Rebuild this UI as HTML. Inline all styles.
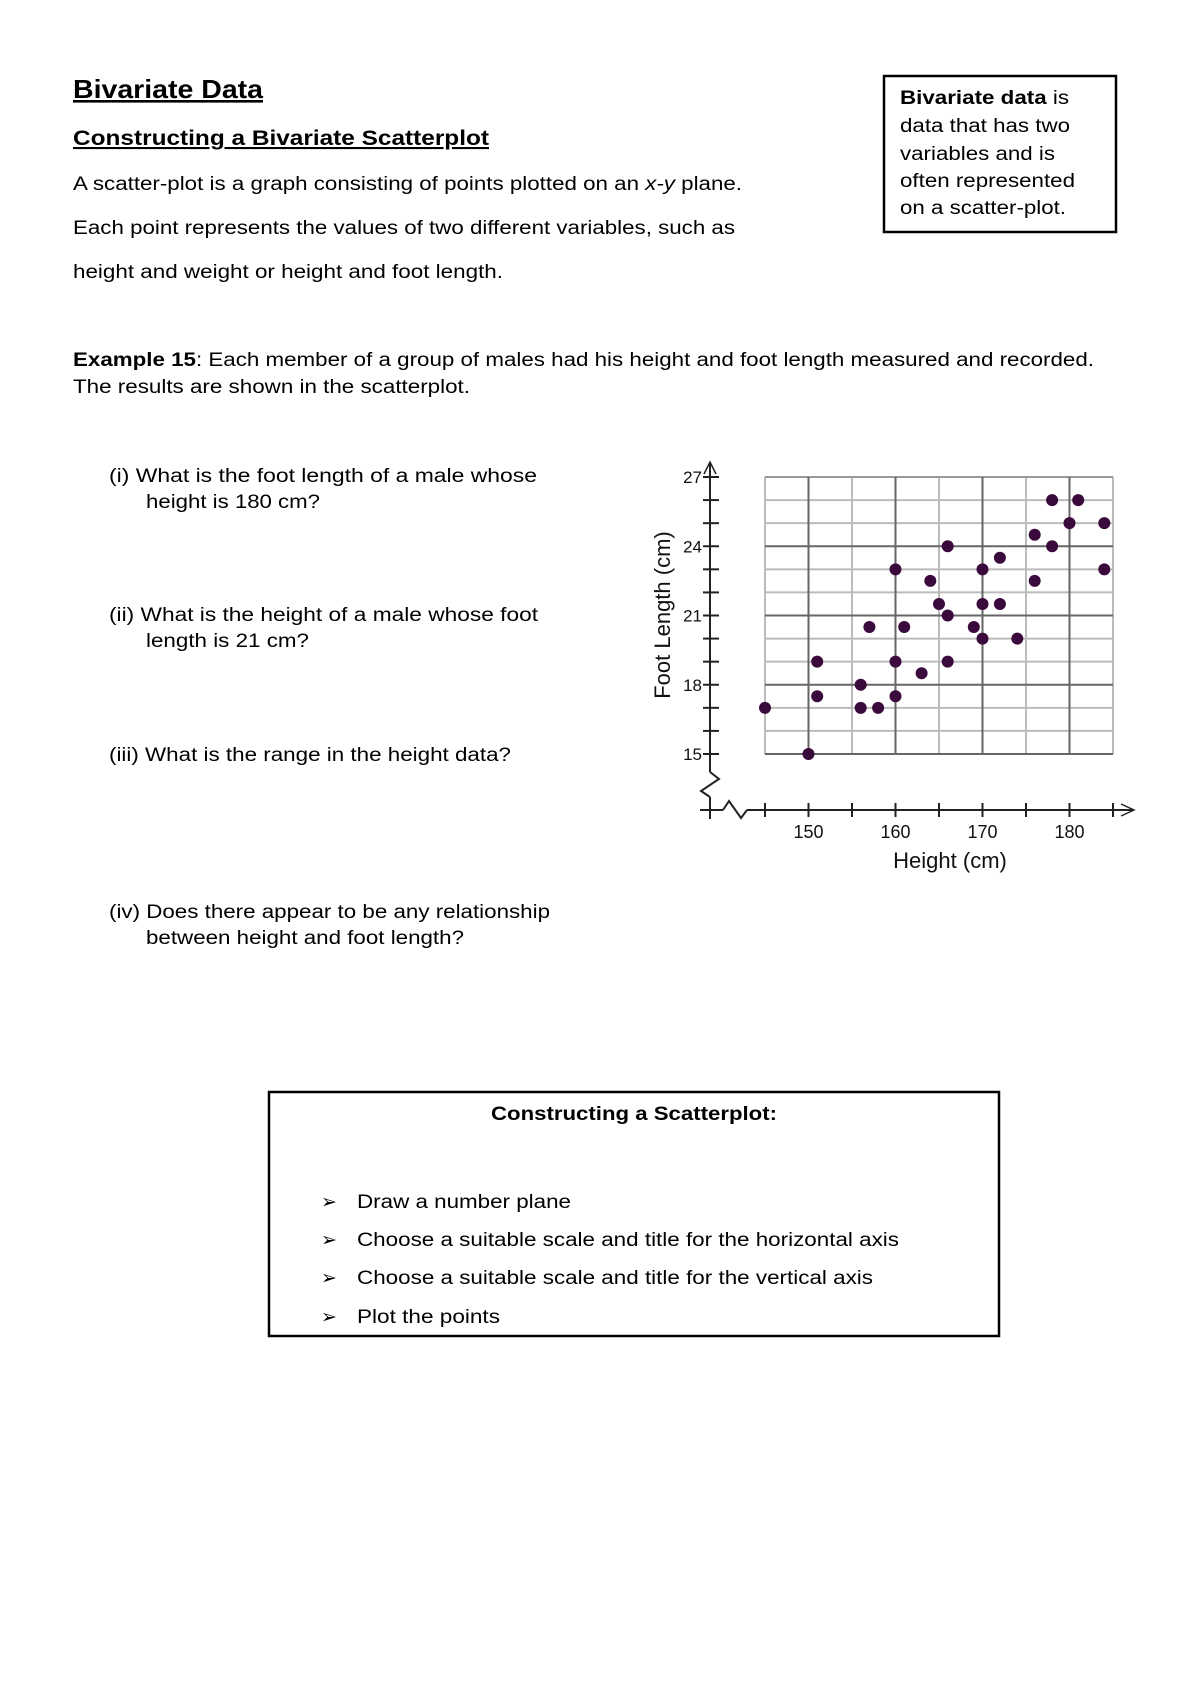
<!DOCTYPE html>
<html><head><meta charset="utf-8"><style>
html,body{margin:0;padding:0;background:#fff;}
svg{display:block;font-family:"Liberation Sans",Arial,sans-serif;}
</style></head><body>
<svg width="1200" height="1698" viewBox="0 0 1200 1698" xmlns="http://www.w3.org/2000/svg">
<g fill="#000">
<text x="73" y="98" font-size="26" font-weight="bold" text-decoration="underline" textLength="190" lengthAdjust="spacingAndGlyphs">Bivariate Data</text>
<text x="73" y="145" font-size="21" font-weight="bold" text-decoration="underline" textLength="416" lengthAdjust="spacingAndGlyphs">Constructing a Bivariate Scatterplot</text>
<text x="73" y="190" font-size="19" textLength="669" lengthAdjust="spacingAndGlyphs">A scatter-plot is a graph consisting of points plotted on an <tspan font-style="italic">x-y</tspan> plane.</text>
<text x="73" y="234" font-size="19" textLength="662" lengthAdjust="spacingAndGlyphs">Each point represents the values of two different variables, such as</text>
<text x="73" y="278" font-size="19" textLength="430" lengthAdjust="spacingAndGlyphs">height and weight or height and foot length.</text>

<rect x="884" y="76" width="232" height="156" fill="none" stroke="#000" stroke-width="2.5"/>
<text x="900" y="104" font-size="19" textLength="169" lengthAdjust="spacingAndGlyphs"><tspan font-weight="bold">Bivariate data</tspan> is</text>
<text x="900" y="132" font-size="19" textLength="170" lengthAdjust="spacingAndGlyphs">data that has two</text>
<text x="900" y="160" font-size="19" textLength="155" lengthAdjust="spacingAndGlyphs">variables and is</text>
<text x="900" y="187" font-size="19" textLength="175" lengthAdjust="spacingAndGlyphs">often represented</text>
<text x="900" y="214" font-size="19" textLength="166" lengthAdjust="spacingAndGlyphs">on a scatter-plot.</text>

<text x="73" y="366" font-size="19" textLength="1021" lengthAdjust="spacingAndGlyphs"><tspan font-weight="bold">Example 15</tspan>: Each member of a group of males had his height and foot length measured and recorded.</text>
<text x="73" y="393" font-size="19" textLength="397" lengthAdjust="spacingAndGlyphs">The results are shown in the scatterplot.</text>

<text x="109" y="482" font-size="19" textLength="428" lengthAdjust="spacingAndGlyphs">(i)  What is the foot length of a male whose</text>
<text x="146" y="508" font-size="19" textLength="174" lengthAdjust="spacingAndGlyphs">height is 180 cm?</text>
<text x="109" y="621" font-size="19" textLength="429" lengthAdjust="spacingAndGlyphs">(ii)  What is the height of a male whose foot</text>
<text x="146" y="647" font-size="19" textLength="163" lengthAdjust="spacingAndGlyphs">length is 21 cm?</text>
<text x="109" y="761" font-size="19" textLength="402" lengthAdjust="spacingAndGlyphs">(iii) What is the range in the height data?</text>
<text x="109" y="918" font-size="19" textLength="441" lengthAdjust="spacingAndGlyphs">(iv) Does there appear to be any relationship</text>
<text x="146" y="944" font-size="19" textLength="318" lengthAdjust="spacingAndGlyphs">between height and foot length?</text>

<rect x="269" y="1092" width="730" height="244" fill="none" stroke="#000" stroke-width="2.5"/>
<text x="491" y="1120" font-size="19" font-weight="bold" textLength="286" lengthAdjust="spacingAndGlyphs">Constructing a Scatterplot:</text>
<g font-size="19">
<text x="321" y="1208">➢</text><text x="357" y="1208" textLength="214" lengthAdjust="spacingAndGlyphs">Draw a number plane</text>
<text x="321" y="1246">➢</text><text x="357" y="1246" textLength="542" lengthAdjust="spacingAndGlyphs">Choose a suitable scale and title for the horizontal axis</text>
<text x="321" y="1284">➢</text><text x="357" y="1284" textLength="516" lengthAdjust="spacingAndGlyphs">Choose a suitable scale and title for the vertical axis</text>
<text x="321" y="1323">➢</text><text x="357" y="1323" textLength="143" lengthAdjust="spacingAndGlyphs">Plot the points</text>
</g>
</g>

<g id="grid" stroke-width="2">
</g>
<script>
(function(){
var ns="http://www.w3.org/2000/svg",g=document.getElementById("grid");
function ln(x1,y1,x2,y2,c,w){var l=document.createElementNS(ns,"line");l.setAttribute("x1",x1);l.setAttribute("y1",y1);l.setAttribute("x2",x2);l.setAttribute("y2",y2);l.setAttribute("stroke",c);l.setAttribute("stroke-width",w||2);g.appendChild(l);}
var L=765,R=1113,T=477,B=754;
function X(h){return L+(h-145)*(R-L)/40;}
function Y(f){return B-(f-15)*(B-T)/12;}
for(var f=15;f<=27;f++){if((27-f)%3)ln(L,Y(f),R,Y(f),"#bbb");}
for(var h=145;h<=185;h+=5){if(h%10)ln(X(h),T,X(h),B,"#bbb");}
for(var f=15;f<=27;f+=3){ln(L,Y(f),R,Y(f),f==27?"#999":"#666");}
for(var h=150;h<=180;h+=10){ln(X(h),T,X(h),B,"#666");}
var c="#222";
ln(710,463,710,772,c);ln(710,797,710,819,c);
var p=document.createElementNS(ns,"polyline");p.setAttribute("points","710,772 719,779 701,791 710,797");p.setAttribute("fill","none");p.setAttribute("stroke",c);p.setAttribute("stroke-width","2");g.appendChild(p);
ln(700,810,723,810,c);ln(747,810,1133,810,c);
p=document.createElementNS(ns,"polyline");p.setAttribute("points","723,810 729,801 741,818 747,810");p.setAttribute("fill","none");p.setAttribute("stroke",c);p.setAttribute("stroke-width","2");g.appendChild(p);
p=document.createElementNS(ns,"polyline");p.setAttribute("points","704,474 710,462 716,474");p.setAttribute("fill","none");p.setAttribute("stroke",c);p.setAttribute("stroke-width","1.5");g.appendChild(p);
p=document.createElementNS(ns,"polyline");p.setAttribute("points","1121,804 1134,810 1121,816");p.setAttribute("fill","none");p.setAttribute("stroke",c);p.setAttribute("stroke-width","1.5");g.appendChild(p);
for(var f=15;f<=27;f++)ln(703,Y(f),719,Y(f),c);
for(var h=145;h<=185;h+=5)ln(X(h),803,X(h),817,c);
function tx(x,y,s,sz,anc,tr){var t=document.createElementNS(ns,"text");t.setAttribute("x",x);t.setAttribute("y",y);t.setAttribute("font-size",sz);t.setAttribute("text-anchor",anc);t.setAttribute("fill","#111");if(tr)t.setAttribute("transform",tr);t.textContent=s;g.appendChild(t);}
for(var f=15;f<=27;f+=3)tx(702,Y(f)+6,""+f,17,"end");
for(var h=150;h<=180;h+=10)tx(X(h),838,""+h,18,"middle");
tx(950,868,"Height (cm)",22,"middle");
tx(670,615,"Foot Length (cm)",22,"middle","rotate(-90 670 615)");
var pts=[[145,17],[150,15],[151,19],[151,17.5],[156,18],[156,17],[157,20.5],[158,17],[160,23],[160,19],[160,17.5],[161,20.5],[163,18.5],[164,22.5],[165,21.5],[166,24],[166,21],[166,19],[169,20.5],[170,23],[170,21.5],[170,20],[172,23.5],[172,21.5],[174,20],[176,24.5],[176,22.5],[178,26],[178,24],[180,25],[181,26],[184,25],[184,23]];
pts.forEach(function(q){var e=document.createElementNS(ns,"circle");e.setAttribute("cx",X(q[0]));e.setAttribute("cy",Y(q[1]));e.setAttribute("r",6);e.setAttribute("fill","#3a0a3c");g.appendChild(e);});
})();
</script>
</svg>
</body></html>
